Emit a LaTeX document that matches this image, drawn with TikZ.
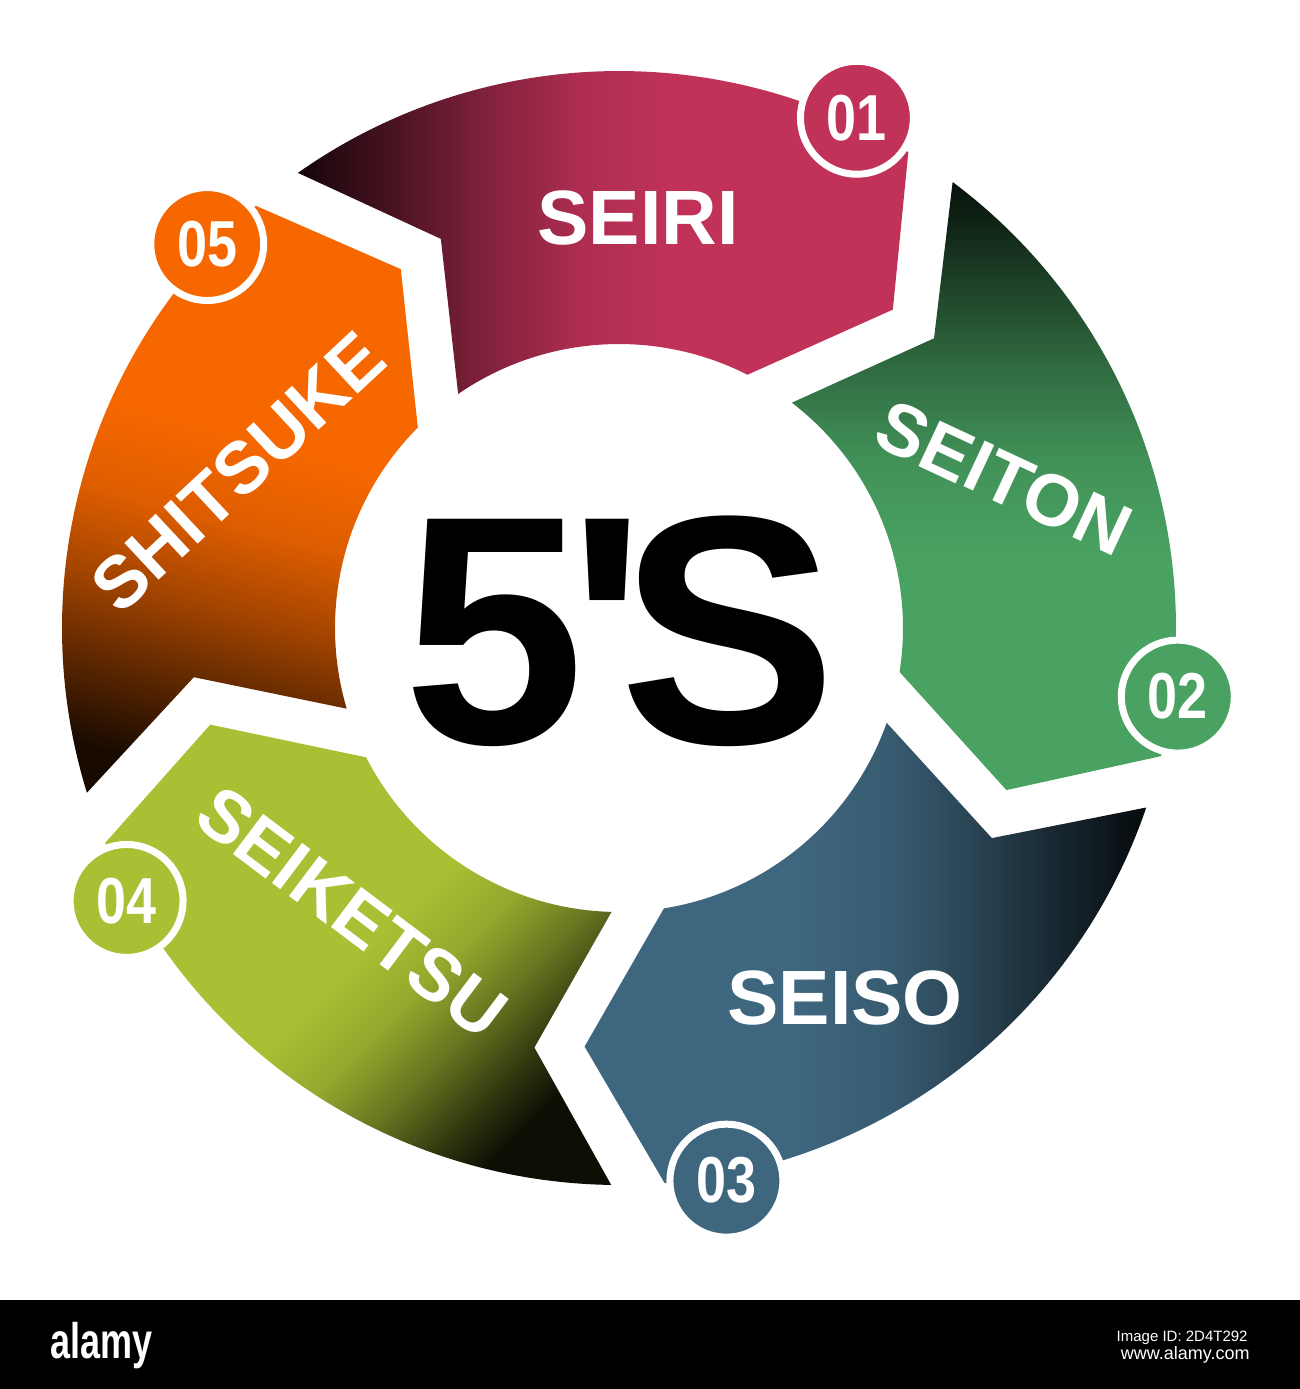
\documentclass[tikz,border=0pt]{standalone}
\usepackage{fontspec}
\usepackage{graphicx}
\newfontfamily\labelfont{Liberation Sans}

\definecolor{seiri}{RGB}{193,50,89}
\definecolor{seiton}{RGB}{73,162,98}
\definecolor{seiso}{RGB}{62,102,126}
\definecolor{seiketsu}{RGB}{169,192,52}
\definecolor{shitsuke}{RGB}{246,103,0}
\colorlet{segcol}{black}

% dark tail fading into the arrow colour
\pgfdeclareverticalshading[segcol]{ringfade}{100bp}{color(0bp)=(segcol!10!black); color(25bp)=(segcol!10!black);
  color(32bp)=(segcol!35!black); color(40bp)=(segcol!65!black); color(48bp)=(segcol!90!black); color(56bp)=(segcol); color(100bp)=(segcol)}
\pgfdeclareverticalshading[segcol]{ringfadeshort}{100bp}{color(0bp)=(segcol!8!black); color(25bp)=(segcol!8!black);
  color(30bp)=(segcol!30!black); color(36bp)=(segcol!60!black); color(43bp)=(segcol!88!black); color(50bp)=(segcol); color(100bp)=(segcol)}

\def\ringout{278.5pt}
\def\ringin{142pt}
\def\ringtip{210pt}
\def\ringnotch{214pt}
\def\badgeR{281.5pt}

% one arrow of the ring: #1 tail angle, #2 head angle, #3 style
\newcommand{\ringarrow}[3]{%
  \shade[#3] (#1-0.8:\ringout) arc[start angle=#1-0.8,end angle=#2+4.7,radius=\ringout]
    -- (#2-4.7:\ringtip) -- (#2+9.1:\ringin)
    arc[start angle=#2+9.1,end angle=#1-1.5,radius=\ringin]
    -- (#1-11.4:\ringnotch) -- cycle;}

\begin{document}
\begin{tikzpicture}
[x=0.5pt,y=0.5pt,every node/.style={inner sep=0pt}]
\tikzset{segment/.style 2 args={/utils/exec={\colorlet{segcol}{#1}},shading=ringfade,shading angle=#2}}
\tikzset{badge/.style={circle,fill=#1,draw=white,line width=3.5pt,minimum size=56.5pt,text=white,
  font=\labelfont\bfseries\fontsize{32.5}{32.5}\selectfont}}
\tikzset{word/.style={text=white,font=\labelfont\bfseries\fontsize{38.5}{38.5}\selectfont}}
\tikzset{tiltword/.style={text=white,font=\labelfont\bfseries\fontsize{36.5}{36.5}\selectfont}}
  \useasboundingbox (-619,-761) rectangle (681,628);
  \fill[white] (-619,-761) rectangle (681,628);
  % the five arrows, clockwise
  \ringarrow{198}{126}{segment={shitsuke}{-15}}
  \ringarrow{126}{54}{segment={seiri}{-90}}
  \ringarrow{54}{-18}{segment={seiton}{180}}
  \ringarrow{-18}{-90}{segment={seiso}{90}}
  \ringarrow{-90}{-162}{segment={seiketsu}{45},shading=ringfadeshort}
  % names
  \node[word] (tseiri) at (19,410) {SEIRI};
  \node[tiltword,rotate=-25] (tseiton) at (385,150) {SEITON};
  \node[word] (tseiso) at (226,-370) {SEISO};
  \node[tiltword,rotate=-37] (tseiketsu) at (-267,-284) {SEIKETSU};
  \node[tiltword,rotate=43] (tshitsuke) at (-381,156) {SHITSUKE};
  % numbers
  \node[badge=seiri] (b1) at (65:\badgeR) {\scalebox{0.83}[1]{01}};
  \node[badge=seiton] (b2) at (-7:\badgeR) {\scalebox{0.83}[1]{02}};
  \node[badge=seiso] (b3) at (-79:\badgeR) {\scalebox{0.83}[1]{03}};
  \node[badge=seiketsu] (b4) at (-151:\badgeR) {\scalebox{0.83}[1]{04}};
  \node[badge=shitsuke] (b5) at (137:\badgeR) {\scalebox{0.83}[1]{05}};
  % centre
  \node[font=\labelfont\bfseries\fontsize{163}{163}\selectfont] (title) at (1,-3) {5\kern-0.05em'\kern-0.08em S};
  % footer bar
  \fill[black] (-619,-761) rectangle (681,-672);
  \node[text=white,font=\labelfont\bfseries\fontsize{25}{25}\selectfont] (logo) at (-517,-718) {\scalebox{0.72}[1]{alamy}};
  \node[anchor=east,text=white,font=\labelfont\fontsize{7.5}{7.5}\selectfont] (imgid) at (629,-710) {Image ID: 2D4T292};
  \node[anchor=east,text=white,font=\labelfont\fontsize{9}{9}\selectfont] (site) at (631,-727) {www.alamy.com};
\end{tikzpicture}
\end{document}
